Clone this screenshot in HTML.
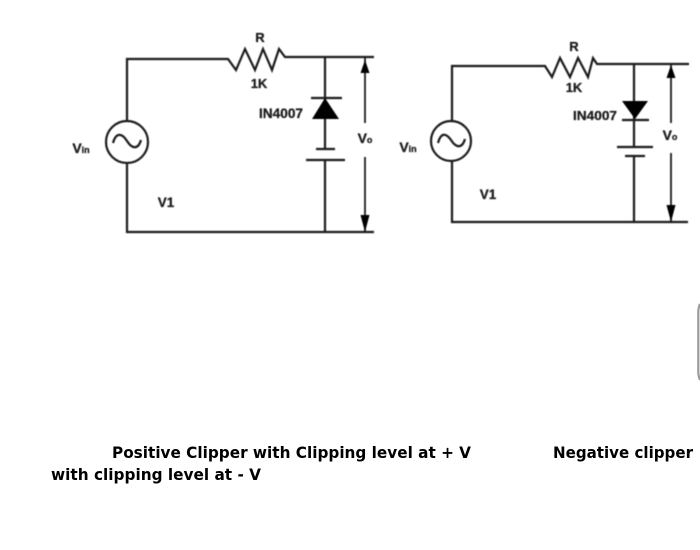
<!DOCTYPE html>
<html>
<head>
<meta charset="utf-8">
<style>
html,body{margin:0;padding:0;background:#fff;width:700px;height:550px;overflow:hidden}
svg{display:block}
.w{fill:none;stroke:#1c1c1c;stroke-width:2.2}
.l{font-family:"Liberation Sans",sans-serif;font-weight:bold;fill:#1c1c1c;stroke:#1c1c1c;stroke-width:.3}
.c{font-family:"DejaVu Sans",sans-serif;font-weight:bold;font-size:16px;fill:#000}
</style>
</head>
<body>
<svg width="700" height="550" viewBox="0 0 700 550" xmlns="http://www.w3.org/2000/svg">
<defs>
<filter id="b" x="-5%" y="-5%" width="110%" height="110%"><feGaussianBlur stdDeviation="0.55"/></filter>
<filter id="t" x="-5%" y="-5%" width="110%" height="110%"><feGaussianBlur stdDeviation="0.3"/></filter>
</defs>
<g filter="url(#b)">
  <!-- Left circuit -->
  <path class="w" d="M127 121V59H228L236 70L245 49L255 70L263 49L272 70L279 49L285 57H374"/>
  <path class="w" d="M127 163V232H374"/>
  <circle class="w" cx="127" cy="142" r="21"/>
  <path class="w" d="M113 143C116 132 122 133 127 141C132 149 138 150 141 140"/>
  <path class="w" d="M325 57V149M325 160V232"/>
  <path class="w" d="M311 98H342M316 149H335M306 160H345"/>
  <path d="M325 98L339 119H312Z" fill="#000"/>
  <path class="w" style="stroke-width:1.8" d="M365 57V123M365 157V232"/>
  <path d="M365 60L369.5 73H360.5Z M365 232L369.5 215H360.5Z" fill="#000"/>
  <text class="l" x="260" y="42" font-size="13" text-anchor="middle">R</text>
  <text class="l" x="259" y="88" font-size="13" text-anchor="middle">1K</text>
  <text class="l" x="259" y="118" font-size="13.5" textLength="44" lengthAdjust="spacingAndGlyphs">IN4007</text>
  <text class="l" x="365" y="143" font-size="14" text-anchor="middle">V<tspan font-size="9">o</tspan></text>
  <text class="l" x="81" y="153" font-size="14" text-anchor="middle">V<tspan font-size="9">in</tspan></text>
  <text class="l" x="166" y="207" font-size="13.5" text-anchor="middle">V1</text>
  <!-- Right circuit -->
  <path class="w" d="M452 121V66H545L552 77L560 58L570 77L578 58L588 77L593 58L597 64H689"/>
  <path class="w" d="M452 161V222H688"/>
  <circle class="w" cx="451" cy="141" r="20"/>
  <path class="w" d="M438 143C441 132 446 133 451 140C456 148 462 149 465 139"/>
  <path class="w" d="M634 64V147M634 156V222"/>
  <path class="w" d="M622 120H649M617 147H653M625 156H645"/>
  <path d="M622 101H648L635 119Z" fill="#000"/>
  <path class="w" style="stroke-width:1.8" d="M671 64V123M671 153V222"/>
  <path d="M671 65L675.5 78H666.5Z M671 222L675.5 205H666.5Z" fill="#000"/>
  <text class="l" x="574" y="51" font-size="13" text-anchor="middle">R</text>
  <text class="l" x="574" y="92" font-size="13" text-anchor="middle">1K</text>
  <text class="l" x="573" y="120" font-size="13" textLength="44" lengthAdjust="spacingAndGlyphs">IN4007</text>
  <text class="l" x="670" y="140" font-size="14" text-anchor="middle">V<tspan font-size="9">o</tspan></text>
  <text class="l" x="408" y="152" font-size="14" text-anchor="middle">V<tspan font-size="9">in</tspan></text>
  <text class="l" x="488" y="199" font-size="13.5" text-anchor="middle">V1</text>
</g>
<!-- Edge fragment -->
<g filter="url(#t)">
<path d="M700 304C698 308 698.3 312 698.3 318V366C698.3 372 698 376 700 380" fill="none" stroke="#9a9a9a" stroke-width="2.2"/>
<!-- Captions -->
<text class="c" x="112" y="458" textLength="359" lengthAdjust="spacingAndGlyphs">Positive Clipper with Clipping level at + V</text>
<text class="c" x="553" y="458" textLength="140" lengthAdjust="spacingAndGlyphs">Negative clipper</text>
<text class="c" x="51" y="480" textLength="210" lengthAdjust="spacingAndGlyphs">with clipping level at - V</text>
</g>
</svg>
</body>
</html>
